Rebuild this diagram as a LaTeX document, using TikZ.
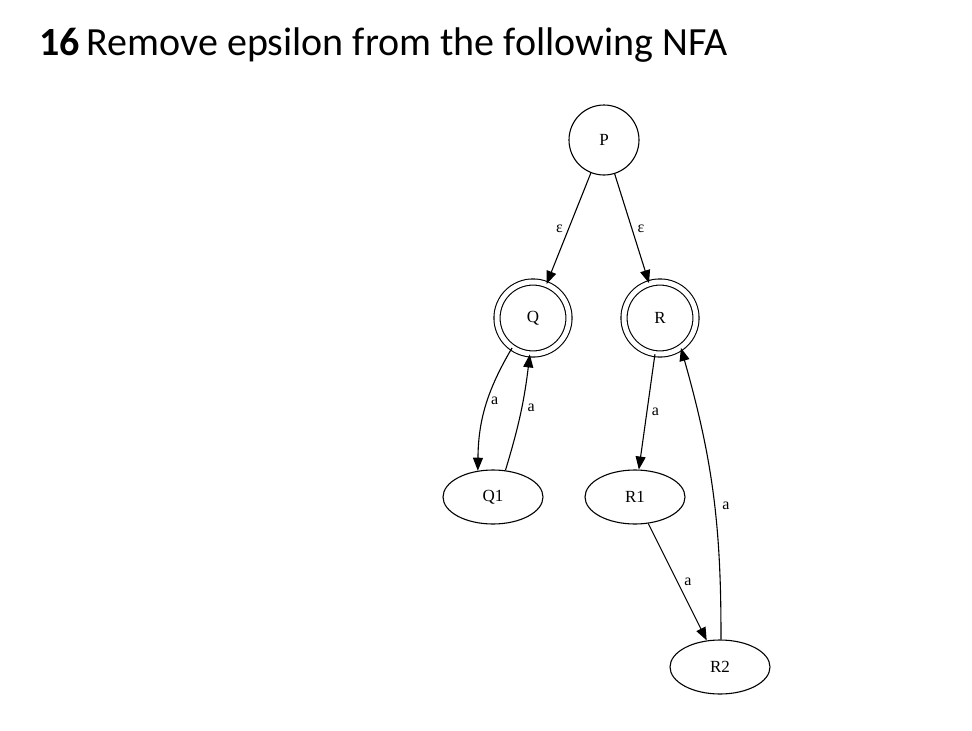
\documentclass[tikz,border=0pt]{standalone}
\usepackage{fontspec}
\setmainfont{Liberation Serif}
\newfontfamily\titlefont{Carlito}
\usetikzlibrary{arrows.meta,shapes.geometric}
\begin{document}
\begin{tikzpicture}[x=1pt,y=-1pt,
  st/.style={circle,draw,line width=1.1pt,minimum size=70pt,inner sep=0pt,font=\fontsize{17}{17}\selectfont},
  acc/.style={circle,draw,line width=1.1pt,double,double distance=5pt,minimum size=72pt,inner sep=0pt,font=\fontsize{17}{17}\selectfont},
  el/.style={ellipse,draw,line width=1.1pt,minimum width=100pt,minimum height=54pt,inner sep=0pt,font=\fontsize{17}{17}\selectfont},
  tr/.style={-{Triangle[length=13pt,width=10pt]},line width=1.1pt},
  lb/.style={font=\fontsize{16}{16}\selectfont}]
\useasboundingbox (0,0) rectangle (972,731);
\fill[white] (0,0) rectangle (972,731);
\node[anchor=west,font=\titlefont\fontsize{40}{40}\selectfont] (title) at (36,45) {\textbf{16}\,Remove epsilon from the following NFA};
\node[st] (P) at (604,140) {P};
\node[acc] (Q) at (533,318) {Q};
\node[acc] (R) at (660,318) {R};
\node[el] (Q1) at (493,497) {Q1};
\node[el] (R1) at (635,497) {R1};
\node[el] (R2) at (720,667) {R2};
\draw[tr] (P) -- (Q) node[lb,pos=0.5,left=2pt]{ε};
\draw[tr] (P) -- (R) node[lb,pos=0.5,right=2pt]{ε};
\draw[tr] (Q.235) to[bend right=15] node[lb,right=0pt,pos=0.45]{a} (Q1.120);
\draw[tr] (Q1.65) to[bend right=5] node[lb,right=2pt,pos=0.55]{a} (Q.265);
\draw[tr] (R) -- (R1) node[lb,pos=0.5,right=1pt]{a};
\draw[tr] (R1) -- (R2) node[lb,pos=0.5,right=3pt]{a};
\draw[tr] (R2.88) to[bend right=8] node[lb,pos=0.45,right=4pt]{a} (R.-55);
\end{tikzpicture}
\end{document}
